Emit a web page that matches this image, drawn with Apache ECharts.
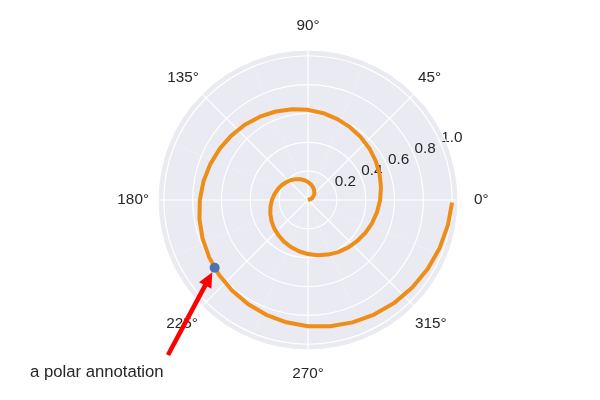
<!DOCTYPE html>
<html>
<head>
<meta charset="utf-8">
<script src="https://cdn.jsdelivr.net/npm/echarts@6/dist/echarts.min.js"></script>
<style>
  html, body { margin: 0; padding: 0; background: #fff; }
  #chart { width: 600px; height: 400px; }
</style>
</head>
<body>
<div id="chart"></div>
<script>
// spiral: angle in degrees (two turns) and radius
var spiralAngle = [0, 10, 20, 30, 40, 50, 60, 70, 80, 90, 100, 110, 120, 130, 140, 150, 160, 170,
  180, 190, 200, 210, 220, 230, 240, 250, 260, 270, 280, 290, 300, 310, 320, 330, 340, 350,
  360, 370, 380, 390, 400, 410, 420, 430, 440, 450, 460, 470, 480, 490, 500, 510, 520, 530,
  540, 550, 560, 570, 580, 590, 600, 610, 620, 630, 640, 650, 660, 670, 680, 690, 700, 710, 719];
var spiralRadius = [0, 0.014, 0.028, 0.042, 0.056, 0.069, 0.083, 0.097, 0.111, 0.125, 0.139, 0.153,
  0.167, 0.181, 0.194, 0.208, 0.222, 0.236, 0.25, 0.264, 0.278, 0.292, 0.306, 0.319,
  0.333, 0.347, 0.361, 0.375, 0.389, 0.403, 0.417, 0.431, 0.444, 0.458, 0.472, 0.486,
  0.5, 0.514, 0.528, 0.542, 0.556, 0.569, 0.583, 0.597, 0.611, 0.625, 0.639, 0.653,
  0.667, 0.681, 0.694, 0.708, 0.722, 0.736, 0.75, 0.764, 0.778, 0.792, 0.806, 0.819,
  0.833, 0.847, 0.861, 0.875, 0.889, 0.903, 0.917, 0.931, 0.944, 0.958, 0.972, 0.986, 0.999];
var markedPoint = [0.8, 216];
var annotationText = 'a polar annotation';
var angleTicks = [0, 45, 90, 135, 180, 225, 270, 315];
var radiusTicks = [0.2, 0.4, 0.6, 0.8, 1.0];

var textColor = '#262626';
var fontFamily = 'Liberation Sans, Arial, sans-serif';
var chart = echarts.init(document.getElementById('chart'), null, { renderer: 'canvas' });

function isRadiusTick(v) {
  return radiusTicks.some(function (t) { return Math.abs(t - v) < 1e-6; });
}

// matplotlib centres its theta labels; nudge echarts' edge-anchored labels to match
var anglePad = {
  0: [0, 0, 0, 16], 45: [0, 0, 9, 4], 90: [0, 0, 17, 0], 135: [0, 3, 9, 0],
  180: [0, 9, 0, 0], 225: [10, 4, 0, 0], 270: [16, 0, 0, 0], 315: [10, 0, 0, 1]
};
var angleRich = {};
angleTicks.forEach(function (t) {
  angleRich['a' + t] = { padding: anglePad[t], color: textColor, fontSize: 15.3, fontFamily: fontFamily };
});

var spiralData = spiralAngle.map(function (a, i) { return [spiralRadius[i], a]; });

chart.setOption({
  animation: false,
  backgroundColor: '#ffffff',
  polar: [
    { center: [308, 200], radius: 150 },
    { center: [308, 200], radius: 150 }
  ],
  angleAxis: [{
    // grid lines and angle labels
    polarIndex: 0,
    type: 'value',
    min: 0,
    max: 360,
    interval: 45,
    startAngle: 0,
    clockwise: false,
    z: 1.5,
    axisLine: { show: false },
    axisTick: { show: false },
    axisLabel: {
      margin: 0,
      color: textColor,
      fontSize: 15.3,
      fontFamily: fontFamily,
      rich: angleRich,
      formatter: function (v) { return angleTicks.indexOf(v) >= 0 ? '{a' + v + '|' + v + '°}' : ''; }
    },
    splitLine: { show: true, lineStyle: { color: '#ffffff', width: 1.2 } }
  }, {
    // background disc, radius labels sit at 22.5°
    polarIndex: 1,
    type: 'value',
    min: 0,
    max: 360,
    interval: 45,
    startAngle: 22.5,
    clockwise: false,
    z: 0,
    axisLine: { show: false },
    axisTick: { show: false },
    axisLabel: { show: false },
    splitLine: { show: false },
    splitArea: { show: true, areaStyle: { color: ['#EAEAF2', '#EAEAF2'] } }
  }],
  radiusAxis: [{
    polarIndex: 0,
    type: 'value',
    min: 0,
    max: 1.04,
    interval: 0.2,
    z: 1.5,
    axisLine: { show: false },
    axisTick: { show: false },
    axisLabel: { show: false },
    splitLine: { show: true, lineStyle: { color: '#ffffff', width: 1.2 } }
  }, {
    polarIndex: 1,
    type: 'value',
    min: 0,
    max: 1.04,
    interval: 0.2,
    z: 1,
    axisLine: { show: false },
    axisTick: { show: false },
    splitLine: { show: false },
    axisLabel: {
      margin: 0,
      align: 'left',
      verticalAlign: 'bottom',
      color: textColor,
      fontSize: 15.3,
      fontFamily: fontFamily,
      formatter: function (v) { return isRadiusTick(v) ? v.toFixed(1) : ''; }
    }
  }],
  series: [{
    type: 'line',
    coordinateSystem: 'polar',
    polarIndex: 0,
    smooth: false,
    showSymbol: false,
    lineStyle: { color: '#ee8d18', width: 4, join: 'round' },
    data: spiralData,
    z: 2
  }, {
    type: 'scatter',
    coordinateSystem: 'polar',
    polarIndex: 0,
    symbolSize: 10,
    itemStyle: { color: '#4c72b0', opacity: 1 },
    data: [markedPoint],
    z: 3
  }]
});

// annotation arrow from the text towards the marked point
var target = chart.convertToPixel({ seriesIndex: 1 }, markedPoint);
var tail = [168, 355];
var dx = target[0] - tail[0], dy = target[1] - tail[1];
var len = Math.sqrt(dx * dx + dy * dy);
var ux = dx / len, uy = dy / len, nx = -uy, ny = ux;
var tip = [target[0] - 5 * ux, target[1] - 5 * uy];
var base = [tip[0] - 15 * ux, tip[1] - 15 * uy];
function pt(p, k) { return [p[0] + k * nx, p[1] + k * ny]; }

chart.setOption({
  graphic: [{
    type: 'polygon',
    shape: { points: [pt(tail, -2.3), pt(base, -2.3), pt(base, -7), tip, pt(base, 7), pt(base, 2.3), pt(tail, 2.3)] },
    style: { fill: '#ff0000' },
    z: 10
  }, {
    type: 'text',
    x: 30,
    y: 381,
    style: {
      text: annotationText,
      fill: textColor,
      fontSize: 16.7,
      fontFamily: fontFamily,
      verticalAlign: 'bottom'
    },
    z: 10
  }]
});
</script>
</body>
</html>
